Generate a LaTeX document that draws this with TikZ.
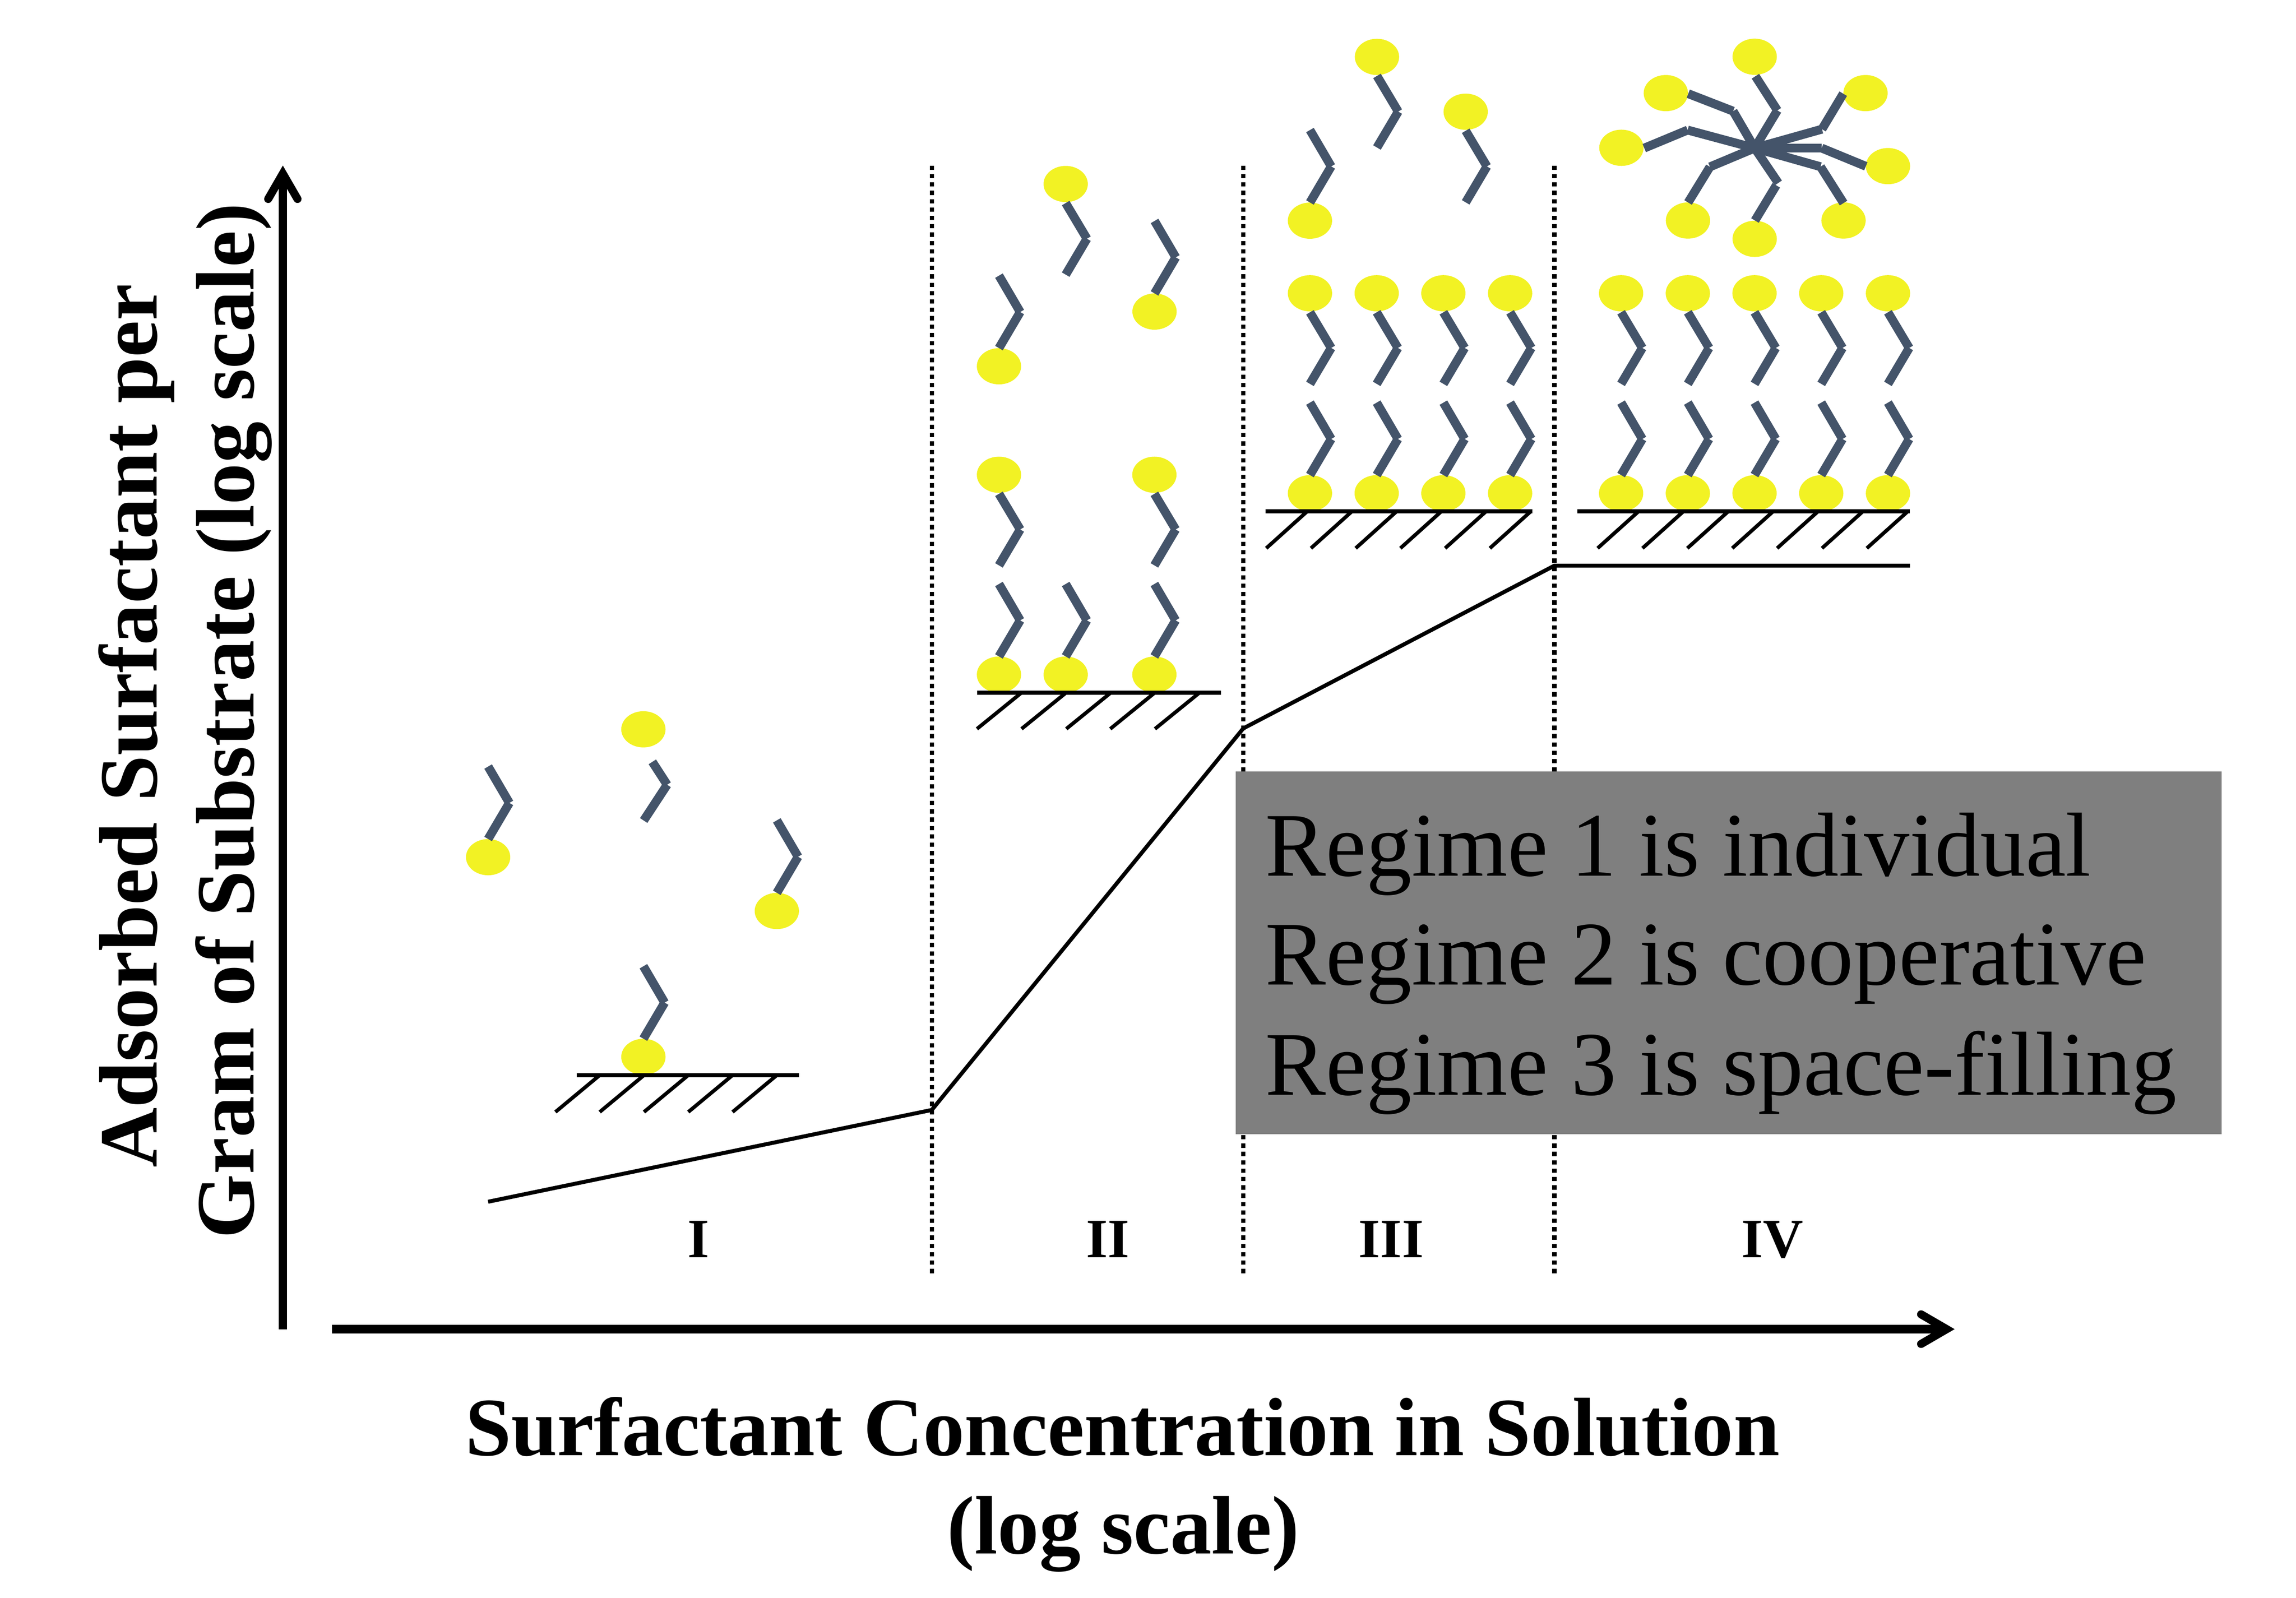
\documentclass[tikz,border=0pt]{standalone}
\usepackage{fontspec}
\setmainfont{Liberation Serif}
\newdimen\U \U=0.05cm
\definecolor{headc}{HTML}{F2F224}
\definecolor{tailc}{HTML}{44546A}
\definecolor{boxc}{HTML}{7F7F7F}
\tikzset{
  tailbar/.style={draw=tailc, line width=6\U, line cap=butt},
  headfill/.style={fill=headc},
  surf/.style={draw=black, line width=2.7\U},
  hatch/.style={draw=black, line width=2.5\U},
  regdiv/.style={draw=black, line width=2.9\U, dash pattern=on 2.9\U off 2.8\U},
  iso/.style={draw=black, line width=2.7\U, line join=miter},
  axis/.style={draw=black, line width=5.7\U, line cap=butt},
  barb/.style={draw=black, line width=5.5\U, line cap=round, line join=miter, miter limit=10},
  lab/.style={font=\bfseries\fontsize{80.4pt}{80.4pt}\selectfont, inner sep=0pt},
  numlab/.style={font=\bfseries\fontsize{54pt}{54pt}\selectfont, inner sep=0pt},
  boxtxt/.style={font=\fontsize{88.2pt}{88.2pt}\selectfont, inner sep=0pt, text=black},
}
\newcommand{\headat}[2]{\fill[headfill] (#1,#2) ellipse [x radius=15.1, y radius=12.35];}
\newcommand{\molD}[2]{%
  \headat{#1}{#2}
  \draw[tailbar] (#1,#2-12.4) -- (#1+14.5,#2-37);
  \draw[tailbar] (#1+14.5,#2-37) -- (#1,#2-61.8);}
\newcommand{\molU}[2]{%
  \headat{#1}{#2}
  \draw[tailbar] (#1,#2+13) -- (#1+14.5,#2+37.3);
  \draw[tailbar] (#1+14.5,#2+37.3) -- (#1,#2+61.8);}
\begin{document}
\begin{tikzpicture}[x=0.05cm, y=-0.05cm]
\useasboundingbox (0,0) rectangle (1565.9,1089.8);

% regime dividers
\foreach \x in {635.5,847.9,1060.1} \draw[regdiv] (\x,113) -- (\x,870);

% isotherm
\draw[iso] (332.9,819.6) -- (635.5,757) -- (847.9,496.8) -- (1060.1,385.8) -- (1302.6,385.8);

% axes
\draw[axis] (192.9,906.5) -- (192.9,118.4);
\draw[barb] (182.9,135.7) -- (192.9,118.4) -- (202.9,135.7);
\draw[axis] (226.5,906.5) -- (1327.6,906.5);
\draw[barb] (1310.2,896.4) -- (1327.6,906.5) -- (1310.2,916.6);

% ---------- regime I ----------
\molD{332.9}{584.6}
\molD{529.8}{621.3}
\molD{438.8}{720.8}
\headat{438.8}{497.4}
\draw[tailbar] (444.9,519.6) -- (455.0,535.2);
\draw[tailbar] (455.0,535.2) -- (439,559.6);
\draw[surf] (393.3,733.3) -- (544.9,733.3);
\foreach \x in {409,439.2,469.4,499.6,529.8} \draw[hatch] (\x,733.3) -- (\x-30.2,758.4);

% ---------- regime II ----------
\molU{726.8}{125.5}
\molD{787.4}{212.5}
\molD{681.3}{249.8}
\molU{681.3}{323.8}
\molU{787.3}{323.8}
\molD{681.3}{460.1}
\molD{726.8}{460.1}
\molD{787.3}{460.1}
\draw[surf] (666.4,472.4) -- (832.7,472.4);
\foreach \x in {696.7,727.1,757.6,787.6,818.1} \draw[hatch] (\x,472.4) -- (\x-30.4,497.1);

% ---------- regime III ----------
\molD{893.4}{150.5}
\molU{939.1}{38.8}
\molU{999.6}{76.2}
\foreach \x in {893.4,938.9,984.4,1029.9} {\molU{\x}{200} \molD{\x}{336.4}}
\draw[surf] (863.1,348.7) -- (1045.1,348.7);
\foreach \x in {891.6,922.1,952.6,983.1,1013.6,1044.1} \draw[hatch] (\x,348.7) -- (\x-28,373.9);

% ---------- regime IV ----------
\foreach \x in {1105.6,1151.1,1196.6,1242.1,1287.6} {\molU{\x}{200} \molD{\x}{336.4}}
\draw[surf] (1075.7,348.7) -- (1302.6,348.7);
\foreach \x in {1117.6,1148.2,1178.8,1209.4,1240,1270.6,1301.2} \draw[hatch] (\x,348.7) -- (\x-28,373.9);

% micelle
\coordinate (mc) at (1196.7,101);
\headat{1196.7}{38.7}
\headat{1136.1}{63.5}
\headat{1105.8}{100.8}
\headat{1151.2}{150.4}
\headat{1196.7}{162.9}
\headat{1257.3}{150.4}
\headat{1287.6}{113.3}
\headat{1272.3}{63.5}
\draw[tailbar] (1197.2,52) -- (1212.2,75.3);   \draw[tailbar] (1212.2,75.3) -- (mc);
\draw[tailbar] (1151.4,63.9) -- (1182,75.8);   \draw[tailbar] (1182,75.8) -- (mc);
\draw[tailbar] (1121.4,101) -- (1151,88.7);    \draw[tailbar] (1151,88.7) -- (mc);
\draw[tailbar] (1151.3,138.1) -- (1166.2,113.8); \draw[tailbar] (1166.2,113.8) -- (mc);
\draw[tailbar] (mc) -- (1212.8,124.8);         \draw[tailbar] (1211.4,126.4) -- (1196.9,150.4);
\draw[tailbar] (1257.3,138.5) -- (1241.6,113.7); \draw[tailbar] (1241.6,113.7) -- (mc);
\draw[tailbar] (1272.5,113.4) -- (1242.4,101);  \draw[tailbar] (1242.4,101) -- (mc);
\draw[tailbar] (1257.1,63.9) -- (1242.6,88.1);  \draw[tailbar] (1242.6,88.1) -- (mc);

% regime numerals
\node[numlab, anchor=base] (n1) at (476.4,857.5) {I};
\node[numlab, anchor=base] (n2) at (755.7,857.5) {II};
\node[numlab, anchor=base] (n3) at (948.8,857.5) {III};
\node[numlab, anchor=base] (n4) at (1208.7,857.5) {IV};

% grey legend box
\fill[boxc] (842.9,526.2) rectangle (1515.3,773.5);
\node[boxtxt, anchor=base west] (r1) at (862.9,597.3) {Regime 1 is individual};
\node[boxtxt, anchor=base west] (r2) at (862.9,671.5) {Regime 2 is cooperative};
\node[boxtxt, anchor=base west] (r3) at (862.9,746.8) {Regime 3 is space-filling};

% axis labels
\node[lab, anchor=base] (xl1) at (765.5,992.7) {Surfactant Concentration in Solution};
\node[lab, anchor=base] (xl2) at (766,1059.5) {(log scale)};
\node[lab, anchor=base, rotate=90] (yl1) at (107,495) {Adsorbed Surfactant per};
\node[lab, anchor=base, rotate=90] (yl2) at (173,491.8) {Gram of Substrate (log scale)};
\end{tikzpicture}
\end{document}
